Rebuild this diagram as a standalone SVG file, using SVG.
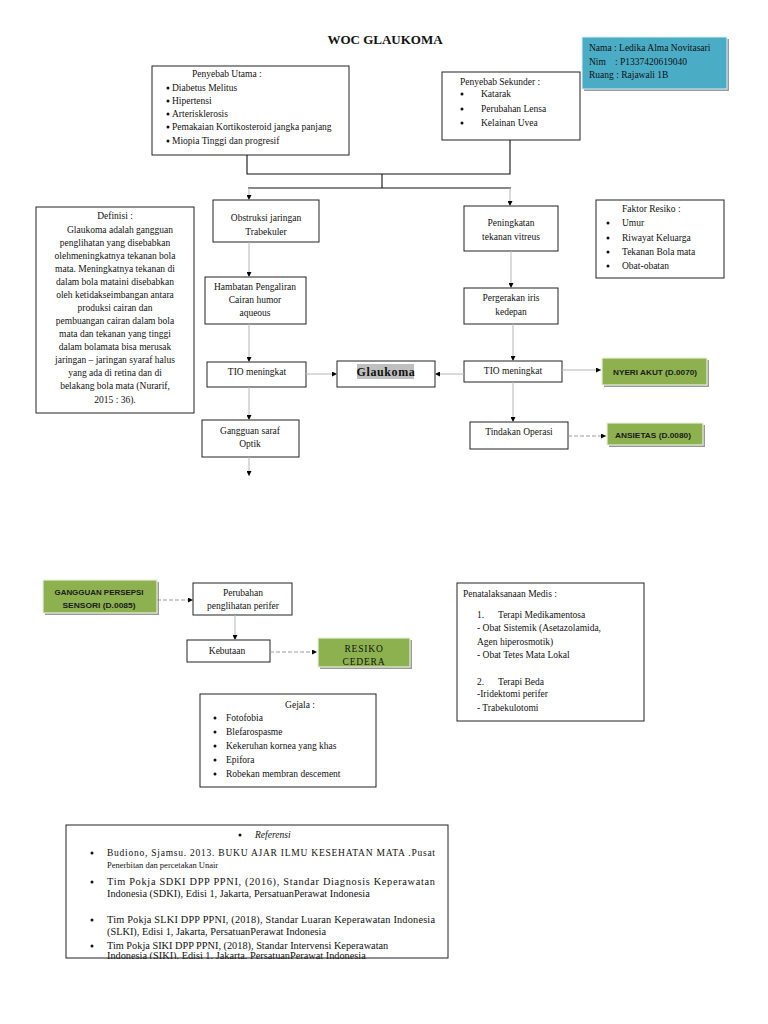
<svg xmlns="http://www.w3.org/2000/svg" width="768" height="1024" viewBox="0 0 768 1024">
<defs>
<style>
text{font-family:"Liberation Serif","Times New Roman",serif;font-size:9.5px;fill:#111}
.box{fill:#fff;stroke:#222;stroke-width:1}
.c{text-anchor:middle}
.conn{stroke:#b5b5b5;stroke-width:1;fill:none}
.dash{stroke:#999;stroke-width:1;fill:none;stroke-dasharray:4 2}
.blk{stroke:#111;stroke-width:1.1;fill:none}
.green{fill:#8db14f;stroke:#e8f0dc;stroke-width:1.2}
.shadow{fill:#9a9a9a}
.gl{font-family:"Liberation Sans",Arial,sans-serif;font-weight:bold;font-size:7.8px;fill:#1a1a1a}
</style>
<marker id="ah" viewBox="0 0 10 10" refX="10" refY="5" markerWidth="5" markerHeight="5" orient="auto" markerUnits="userSpaceOnUse"><path d="M0,0 L10,5 L0,10 z" fill="#000"/></marker>
<clipPath id="refclip"><rect x="60" y="820" width="400" height="139"/></clipPath>
</defs>
<rect width="768" height="1024" fill="#fff"/>

<text x="385" y="44" class="c" style="font-weight:bold;font-size:13px">WOC GLAUKOMA</text>

<g id="nama">
<rect x="584" y="39" width="145" height="52" class="shadow"/>
<rect x="582" y="37" width="145" height="52" fill="#4bacc6" stroke="#dbeef4" stroke-width="1"/>
<text x="589" y="51">Nama : Ledika Alma Novitasari</text>
<text x="589" y="65">Nim</text><text x="615" y="65">: P1337420619040</text>
<text x="589" y="78">Ruang : Rajawali 1B</text>
</g>

<g id="penyebab-utama">
<rect x="152" y="66" width="197" height="89" class="box"/>
<text x="192" y="77">Penyebab Utama :</text>
<circle cx="168" cy="88" r="1.5" fill="#111"/><text x="172" y="91">Diabetus Melitus</text>
<circle cx="168" cy="101" r="1.5" fill="#111"/><text x="172" y="104">Hipertensi</text>
<circle cx="168" cy="114" r="1.5" fill="#111"/><text x="172" y="117">Arterisklerosis</text>
<circle cx="168" cy="127" r="1.5" fill="#111"/><text x="172" y="130">Pemakaian Kortikosteroid jangka panjang</text>
<circle cx="168" cy="141" r="1.5" fill="#111"/><text x="172" y="144">Miopia  Tinggi dan progresif</text>
</g>

<g id="penyebab-sekunder">
<rect x="442" y="72" width="138" height="68" class="box"/>
<text x="460" y="85">Penyebab Sekunder :</text>
<circle cx="462" cy="94" r="1.5" fill="#111"/><text x="481" y="97">Katarak</text>
<circle cx="462" cy="109" r="1.5" fill="#111"/><text x="481" y="112">Perubahan Lensa</text>
<circle cx="462" cy="123" r="1.5" fill="#111"/><text x="481" y="126">Kelainan Uvea</text>
</g>

<g id="definisi">
<rect x="36" y="207" width="158" height="206" class="box"/>
<g style="font-size:9.3px" class="c">
<text x="115" y="219">Definisi :</text>
<text x="120" y="233">Glaukoma adalah gangguan</text>
<text x="115" y="246">penglihatan yang disebabkan</text>
<text x="115" y="259">olehmeningkatnya tekanan bola</text>
<text x="115" y="272">mata. Meningkatnya tekanan di</text>
<text x="115" y="285">dalam bola mataini disebabkan</text>
<text x="115" y="298">oleh ketidakseimbangan antara</text>
<text x="115" y="311">produksi cairan dan</text>
<text x="115" y="324">pembuangan cairan dalam bola</text>
<text x="115" y="337">mata dan tekanan yang tinggi</text>
<text x="115" y="350">dalam bolamata bisa merusak</text>
<text x="115" y="363">jaringan –  jaringan syaraf halus</text>
<text x="115" y="376">yang ada di retina dan di</text>
<text x="115" y="389">belakang bola mata (Nurarif,</text>
<text x="115" y="403">2015 : 36).</text>
</g>
</g>

<g id="obstruksi">
<rect x="213" y="200" width="106" height="42" class="box"/>
<text x="266" y="221" class="c">Obstruksi jaringan</text>
<text x="266" y="235" class="c">Trabekuler</text>
</g>

<g id="hambatan">
<rect x="205" y="277" width="101" height="47" class="box"/>
<text x="255" y="290" class="c">Hambatan Pengaliran</text>
<text x="255" y="303" class="c">Cairan humor</text>
<text x="255" y="316" class="c">aqueous</text>
</g>

<g id="tio-kiri">
<rect x="207" y="362" width="99" height="25" class="box"/>
<text x="257" y="375" class="c">TIO meningkat</text>
</g>

<g id="glaukoma">
<rect x="337" y="361" width="98" height="26" class="box"/>
<rect x="357" y="364" width="57" height="15" fill="#bfbfbf"/>
<text x="386" y="376" class="c" style="font-weight:bold;font-size:12px;letter-spacing:0.6px">Glaukoma</text>
</g>

<g id="gangguan-saraf">
<rect x="202" y="420" width="97" height="37" class="box"/>
<text x="250" y="434" class="c">Gangguan saraf</text>
<text x="250" y="447" class="c">Optik</text>
</g>

<g id="peningkatan">
<rect x="464" y="206" width="94" height="45" class="box"/>
<text x="511" y="226" class="c">Peningkatan</text>
<text x="511" y="240" class="c">tekanan vitreus</text>
</g>

<g id="pergerakan">
<rect x="464" y="288" width="94" height="36" class="box"/>
<text x="511" y="301" class="c">Pergerakan iris</text>
<text x="511" y="315" class="c">kedepan</text>
</g>

<g id="tio-kanan">
<rect x="464" y="361" width="98" height="21" class="box"/>
<text x="513" y="374" class="c">TIO meningkat</text>
</g>

<g id="tindakan">
<rect x="470" y="422" width="98" height="27" class="box"/>
<text x="519" y="435" class="c">Tindakan Operasi</text>
</g>

<g id="faktor-resiko">
<rect x="596" y="200" width="128" height="78" class="box"/>
<text x="622" y="212">Faktor Resiko :</text>
<circle cx="608" cy="223" r="1.5" fill="#111"/><text x="622" y="226">Umur</text>
<circle cx="608" cy="238" r="1.5" fill="#111"/><text x="622" y="241">Riwayat Keluarga</text>
<circle cx="608" cy="252" r="1.5" fill="#111"/><text x="622" y="255">Tekanan Bola mata</text>
<circle cx="608" cy="266" r="1.5" fill="#111"/><text x="622" y="269">Obat-obatan</text>
</g>

<g id="nyeri-akut">
<rect x="604" y="360" width="105" height="27" class="shadow"/>
<rect x="602" y="358" width="105" height="27" class="green"/>
<text x="655" y="375" class="gl c" textLength="84" lengthAdjust="spacingAndGlyphs">NYERI AKUT (D.0070)</text>
</g>

<g id="ansietas">
<rect x="609" y="425" width="96" height="22" class="shadow"/>
<rect x="607" y="423" width="96" height="22" class="green"/>
<text x="653" y="438" class="gl c" textLength="76" lengthAdjust="spacingAndGlyphs">ANSIETAS (D.0080)</text>
</g>

<g id="gangguan-persepsi">
<rect x="45" y="582" width="114" height="33" class="shadow"/>
<rect x="43" y="580" width="114" height="33" class="green"/>
<text x="99" y="595" class="gl c" textLength="89" lengthAdjust="spacingAndGlyphs">GANGGUAN PERSEPSI</text>
<text x="99" y="608" class="gl c" textLength="73" lengthAdjust="spacingAndGlyphs">SENSORI (D.0085)</text>
</g>

<g id="perubahan">
<rect x="193" y="583" width="99" height="32" class="box"/>
<text x="243" y="596" class="c">Perubahan</text>
<text x="243" y="609" class="c">penglihatan perifer</text>
</g>

<g id="kebutaan">
<rect x="187" y="640" width="83" height="22" class="box"/>
<text x="227" y="654" class="c">Kebutaan</text>
</g>

<g id="resiko-cedera">
<rect x="320" y="640" width="92" height="29" class="shadow"/>
<rect x="318" y="638" width="92" height="29" class="green"/>
<text x="364" y="652" class="c" style="letter-spacing:0.8px">RESIKO</text>
<text x="364" y="665" class="c" style="letter-spacing:0.8px">CEDERA</text>
</g>

<g id="penatalaksanaan">
<rect x="457" y="583" width="187" height="138" class="box"/>
<text x="463" y="597">Penatalaksanaan Medis :</text>
<text x="477" y="618">1.</text><text x="498" y="618">Terapi Medikamentosa</text>
<text x="477" y="631">- Obat Sistemik (Asetazolamida,</text>
<text x="477" y="645">Agen hiperosmotik)</text>
<text x="477" y="658">- Obat Tetes Mata Lokal</text>
<text x="477" y="685">2.</text><text x="498" y="685">Terapi Beda</text>
<text x="477" y="697">-Iridektomi perifer</text>
<text x="477" y="711">- Trabekulotomi</text>
</g>

<g id="gejala">
<rect x="200" y="694" width="176" height="93" class="box"/>
<text x="300" y="708" class="c">Gejala :</text>
<circle cx="215" cy="718" r="1.5" fill="#111"/><text x="226" y="721">Fotofobia</text>
<circle cx="215" cy="732" r="1.5" fill="#111"/><text x="226" y="735">Blefarospasme</text>
<circle cx="215" cy="746" r="1.5" fill="#111"/><text x="226" y="749">Kekeruhan kornea yang khas</text>
<circle cx="215" cy="760" r="1.5" fill="#111"/><text x="226" y="763">Epifora</text>
<circle cx="215" cy="774" r="1.5" fill="#111"/><text x="226" y="777">Robekan membran descement</text>
</g>

<g id="referensi">
<rect x="66" y="825" width="382" height="133" fill="#fff"/>
<g clip-path="url(#refclip)">
<circle cx="240" cy="835" r="1.5" fill="#111"/><text x="255" y="838" style="font-style:italic">Referensi</text>
<circle cx="92" cy="853" r="1.5" fill="#111"/>
<text x="107" y="856" textLength="328" lengthAdjust="spacing">Budiono, Sjamsu. 2013. BUKU AJAR ILMU KESEHATAN MATA .Pusat</text>
<text x="107" y="868" style="font-size:8.5px">Penerbitan dan percetakan Unair</text>
<circle cx="92" cy="882" r="1.5" fill="#111"/>
<text x="107" y="885" style="font-size:10.3px" textLength="328" lengthAdjust="spacing">Tim Pokja SDKI DPP PPNI, (2016), Standar Diagnosis Keperawatan</text>
<text x="107" y="897" style="font-size:10.3px">Indonesia (SDKI), Edisi 1, Jakarta, PersatuanPerawat Indonesia</text>
<circle cx="92" cy="920" r="1.5" fill="#111"/>
<text x="107" y="923" style="font-size:10.3px" textLength="328" lengthAdjust="spacing">Tim Pokja SLKI DPP PPNI, (2018), Standar Luaran Keperawatan Indonesia</text>
<text x="107" y="935" style="font-size:10.3px">(SLKI), Edisi 1, Jakarta, PersatuanPerawat Indonesia</text>
<circle cx="92" cy="946" r="1.5" fill="#111"/>
<text x="107" y="949" style="font-size:10.3px">Tim Pokja SIKI DPP PPNI, (2018), Standar Intervensi Keperawatan</text>
<text x="107" y="959" style="font-size:10.3px">Indonesia (SIKI), Edisi 1, Jakarta, PersatuanPerawat Indonesia</text>
</g>
<rect x="66" y="825" width="382" height="133" fill="none" stroke="#222" stroke-width="1"/>
</g>

<g id="connectors">
<polyline class="blk" points="247,155 247,174 510,174 510,140"/>
<line class="blk" x1="382" y1="174" x2="382" y2="188"/>
<line class="blk" x1="248" y1="188" x2="511" y2="188"/>
<line class="conn" x1="249" y1="188" x2="249" y2="200" marker-end="url(#ah)"/>
<line class="conn" x1="510" y1="188" x2="510" y2="206" marker-end="url(#ah)"/>
<line class="conn" x1="249" y1="242" x2="249" y2="277" marker-end="url(#ah)"/>
<line class="conn" x1="249" y1="324" x2="249" y2="362" marker-end="url(#ah)"/>
<line class="conn" x1="306" y1="374" x2="337" y2="374" marker-end="url(#ah)"/>
<line class="conn" x1="464" y1="374" x2="435" y2="374" marker-end="url(#ah)"/>
<line class="conn" x1="249" y1="387" x2="249" y2="420" marker-end="url(#ah)"/>
<line class="conn" x1="249" y1="457" x2="249" y2="476" marker-end="url(#ah)"/>
<line class="conn" x1="511" y1="251" x2="511" y2="288" marker-end="url(#ah)"/>
<line class="conn" x1="513" y1="324" x2="513" y2="361" marker-end="url(#ah)"/>
<line class="conn" x1="513" y1="382" x2="513" y2="422" marker-end="url(#ah)"/>
<line class="conn" x1="562" y1="370" x2="601" y2="370" marker-end="url(#ah)"/>
<line class="dash" x1="568" y1="436" x2="606" y2="436" marker-end="url(#ah)"/>
<line class="dash" x1="157" y1="600" x2="193" y2="600" marker-end="url(#ah)"/>
<line class="conn" x1="235" y1="615" x2="235" y2="640" marker-end="url(#ah)"/>
<line class="dash" x1="270" y1="652" x2="317" y2="652" marker-end="url(#ah)"/>
</g>
</svg>
